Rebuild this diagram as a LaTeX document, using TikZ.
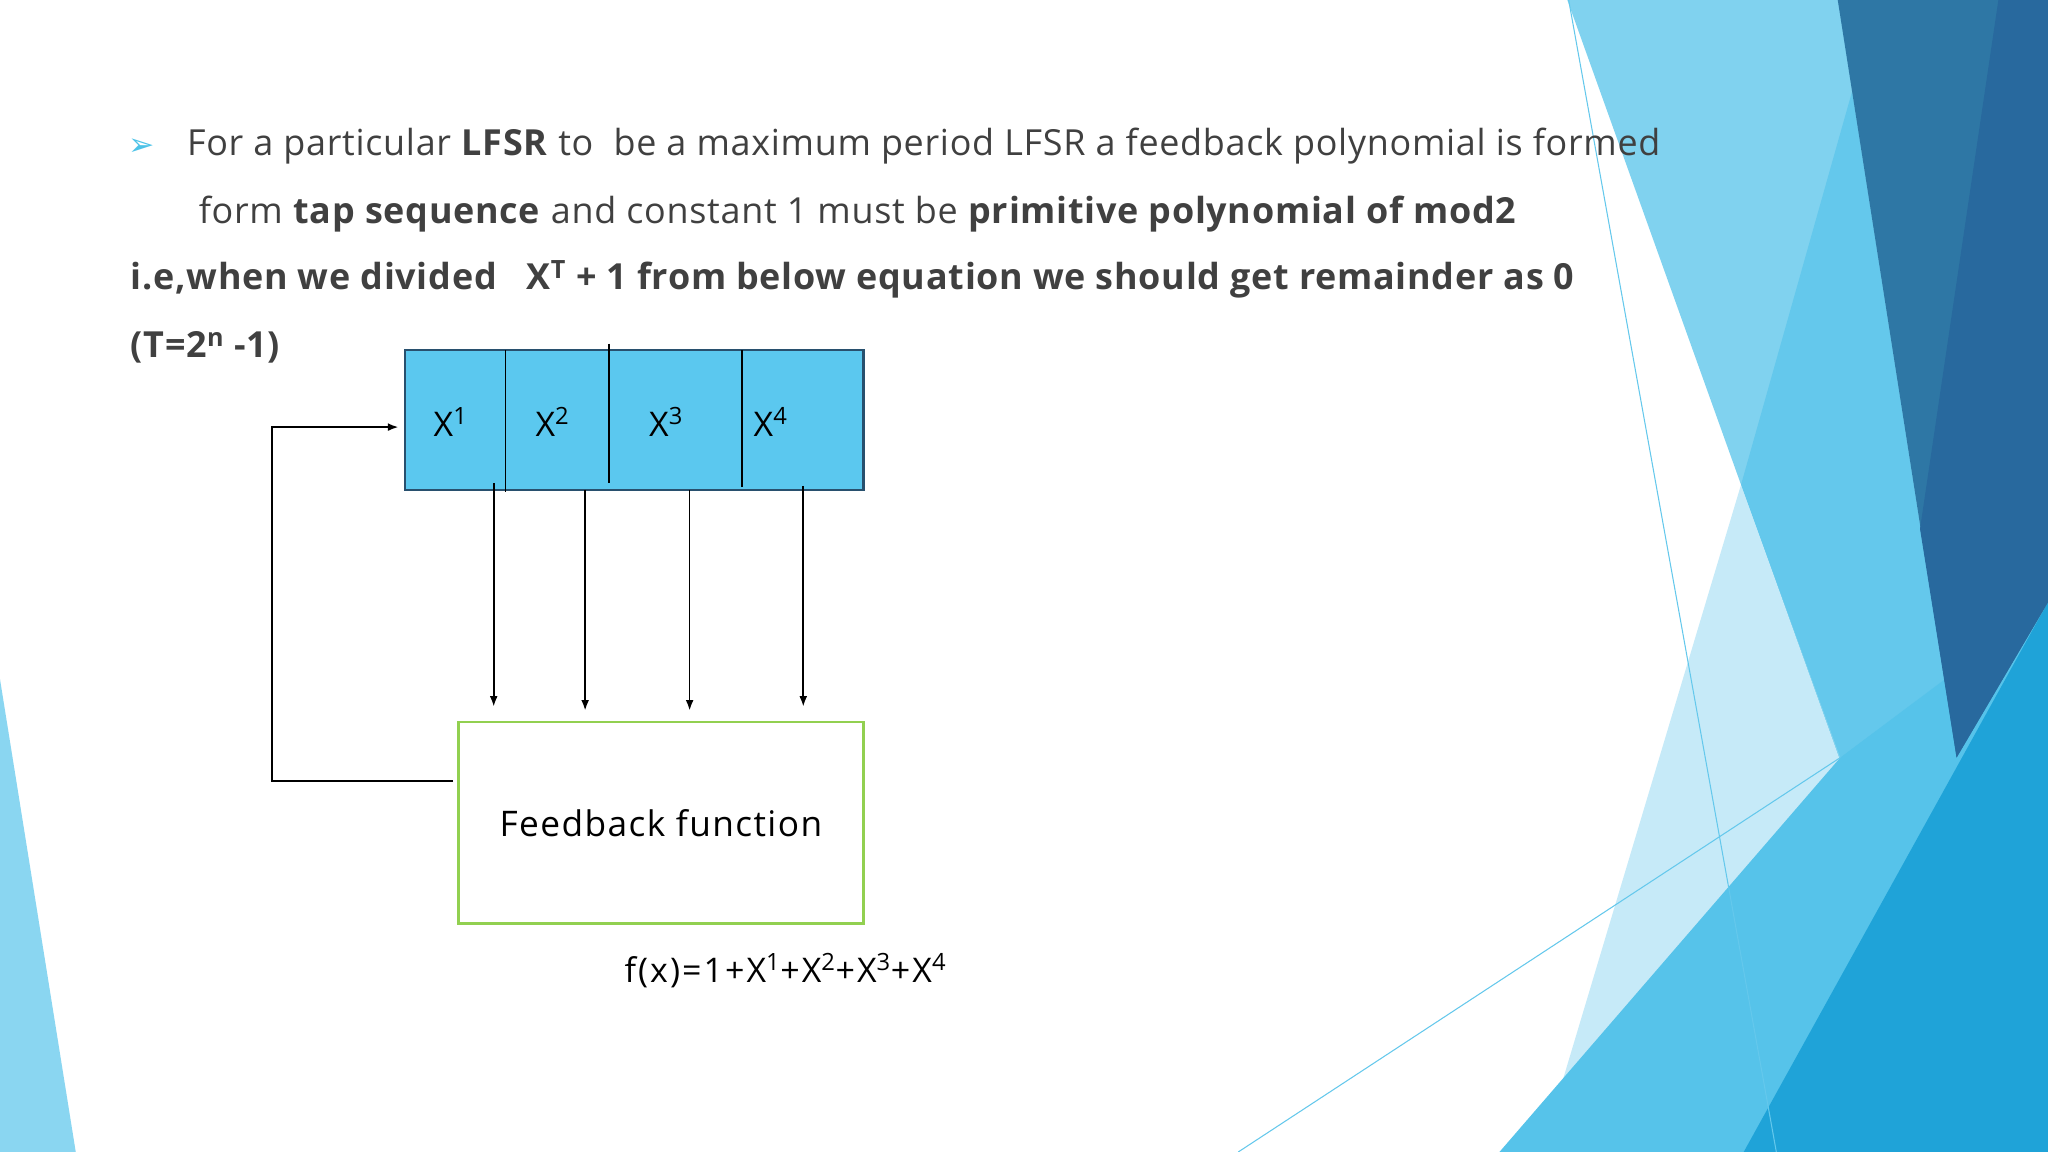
\documentclass[tikz,border=0pt]{standalone}
\usepackage{fontspec}
\setmainfont{Open Sans}
\newfontfamily\symfont{DejaVu Sans}
\usetikzlibrary{arrows.meta}
\definecolor{txt}{HTML}{404040}
\definecolor{sliver}{HTML}{8AD6F1}
\begin{document}
\begin{tikzpicture}[x=1pt,y=-1pt,
  conn/.style={draw=black,line width=1.3pt,-{Latex[length=8pt,width=6pt]}},
  title/.style={anchor=base west,text=txt,font=\fontsize{27.5}{30}\selectfont\addfontfeatures{LetterSpace=2},inner sep=0pt},
  lbl/.style={font=\fontsize{26}{28}\selectfont\addfontfeatures{LetterSpace=6},text=black,inner sep=0pt}]
\useasboundingbox (0,0) rectangle (1568,882);
\fill[white] (0,0) rectangle (1568,882);
% background shapes
\fill[sliver] (0,520) -- (0,882) -- (58,882) -- cycle;
\fill[color={rgb,255:red,128;green,210;blue,239}] (1200,0) -- (1568,0) -- (1568,882) -- (1516,882) -- cycle;
\fill[color={rgb,255:red,198;green,234;blue,248}] (1333,371) -- (1180,882) -- (1516,882) -- cycle;
\fill[color={rgb,255:red,100;green,200;blue,236}] (1418,70) -- (1333,371) -- (1409,580) -- (1498,580) -- cycle;
\fill[color={rgb,255:red,86;green,195;blue,234}] (1409,580) -- (1568,461) -- (1568,882) -- (1148,882) -- cycle;
\fill[color={rgb,255:red,31;green,163;blue,216}] (1568,461) -- (1568,882) -- (1335,882) -- cycle;
\fill[color={rgb,255:red,46;green,119;blue,165}] (1407,0) -- (1568,0) -- (1568,461) -- (1498,580) -- cycle;
\fill[color={rgb,255:red,40;green,105;blue,158}] (1530,0) -- (1568,0) -- (1568,461) -- (1498,580) -- (1470,405) -- cycle;
\draw[color={rgb,255:red,100;green,200;blue,236},line width=0.8pt] (1201,0) -- (1360,882);
\draw[color={rgb,255:red,100;green,200;blue,236},line width=0.8pt] (948,882) -- (1409,580);
% title text
\node[text={rgb,255:red,77;green,195;blue,232},anchor=base west,inner sep=0pt,font=\symfont\fontsize{24}{24}\selectfont] (bul) at (98,119) {➢};
\node[title] (l1) at (143,119) {For a particular \textbf{LFSR} to\ \ be a maximum period LFSR a feedback polynomial is formed};
\node[title] (l2) at (152,171) {form \textbf{tap sequence} and constant 1 must be \textbf{primitive polynomial of mod2}};
\node[title] (l3) at (100,222) {\textbf{i.e,when we divided\ \ \ X\textsuperscript{T} + 1 from below equation we should get remainder as 0}};
\node[title] (l4) at (100,274) {\textbf{(T=2\textsuperscript{n} -1)}};
% register
\draw[fill={rgb,255:red,91;green,200;blue,239},draw={rgb,255:red,40;green,80;blue,110},line width=1.8pt] (310,268) rectangle (661,375);
\draw[line width=1.4pt] (387,268) -- (387,377);
\draw[line width=1.4pt] (466,263) -- (466,370);
\draw[line width=1.4pt] (568,268) -- (568,373);
\node[lbl] (x1) at (345,323) {X\textsuperscript{1}};
\node[lbl] (x2) at (423,323) {X\textsuperscript{2}};
\node[lbl] (x3) at (510,323) {X\textsuperscript{3}};
\node[lbl] (x4) at (590,323) {X\textsuperscript{4}};
% feedback box
\node[draw={rgb,255:red,146;green,208;blue,80},line width=1.8pt,minimum width=310pt,minimum height=154pt,inner sep=0pt,font=\fontsize{27}{28}\selectfont\addfontfeatures{LetterSpace=4}] (fb) at (506,630) {Feedback function};
% tap arrows
\coordinate (t1) at (378,370); \coordinate (e1) at (378,541);
\coordinate (t2) at (448,375); \coordinate (e2) at (448,544);
\coordinate (t3) at (528,375); \coordinate (e3) at (528,544);
\coordinate (t4) at (615,372); \coordinate (e4) at (615,541);
\foreach \i in {1,...,4} \draw[conn] (t\i) -- (e\i);
% feedback path
\coordinate (fs) at (347,598); \coordinate (fin) at (305,327);
\draw[conn] (fs) -- (208,598) -- (208,327) -- (fin);
\node[lbl,anchor=base west] (fx) at (478,752) {f(x)=1+X\textsuperscript{1}+X\textsuperscript{2}+X\textsuperscript{3}+X\textsuperscript{4}};
\end{tikzpicture}
\end{document}
